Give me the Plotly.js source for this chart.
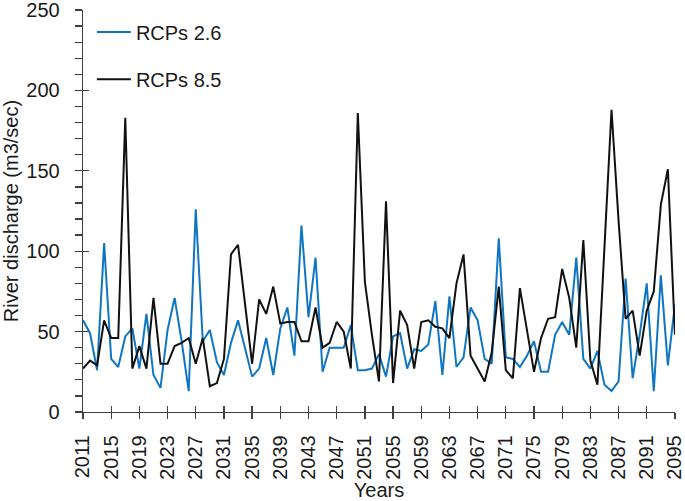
<!DOCTYPE html>
<html>
<head>
<meta charset="utf-8">
<script src="https://cdn.plot.ly/plotly-3.0.1.min.js"></script>
<style>html,body{margin:0;padding:0;background:#fff;}#chart{width:685px;height:501px;}</style>
</head>
<body>
<div id="chart"></div>
<script>
var years = [];
for (var yr = 2011; yr <= 2095; yr++) years.push(yr);

var rcp26 = [57,49,26,105,33,28,47,52,27,61,
             23,15,51,71,44,13,126,44,51,31,
             23,43,57,39,22,27,46,23,52,65,
             35,116,59,96,25,40,40,40,54,26,
             26,27,36,22,47,49,27,39,38,42,
             69,23,72,28,34,65,57,33,30,108,
             34,33,28,35,44,25,25,48,56,48,
             96,33,27,38,17,13,19,83,21,48,
             80,13,85,29,67];

var rcp85 = [27,32,29,57,46,46,183,27,41,27,
             71,30,30,41,43,46,30,46,16,18,
             33,98,104,67,30,70,61,78,55,56,
             56,44,44,65,40,43,56,50,27,186,
             81,48,19,131,18,63,54,27,56,57,
             53,52,46,80,98,35,27,19,37,78,
             26,21,77,52,25,46,58,59,89,71,
             40,107,32,17,100,188,119,58,63,35,
             63,75,129,151,48];

var seriesNames = ['RCPs 2.6', 'RCPs 8.5'];
var tickYears = [];
for (var t = 2011; t <= 2095; t += 4) tickYears.push(t);
var yTicks = [0, 50, 100, 150, 200, 250];

var axisColor = '#404040';
var fontFam = 'Liberation Sans, Arial, sans-serif';
var xRange = [2011, 2095.01];
var yRange = [0, 250.02];

var traces = [
  {x: years, y: rcp26, name: seriesNames[0], type: 'scatter', mode: 'lines',
   line: {color: '#0f76c4', width: 2}, legend: 'legend'},
  {x: years, y: rcp85, name: seriesNames[1], type: 'scatter', mode: 'lines',
   line: {color: '#111111', width: 2}, xaxis: 'x2', yaxis: 'y2', legend: 'legend2'}
];

var layout = {
  width: 685, height: 501,
  margin: {l: 83, r: 10, t: 10, b: 89},
  paper_bgcolor: '#fff', plot_bgcolor: '#fff',
  font: {family: fontFam, size: 20, color: '#1a1a1a'},
  xaxis: {
    range: xRange, tickvals: tickYears, ticktext: tickYears.map(String),
    tickangle: -90, ticks: 'outside', ticklen: 6, tickwidth: 1.3, tickcolor: axisColor,
    showline: true, linecolor: axisColor, linewidth: 1.3, showgrid: false, zeroline: false,
    ticklabelstandoff: 8, ticklabeloverflow: 'allow',
    tickfont: {size: 20}, title: {text: 'Years', font: {size: 20}, standoff: 8}
  },
  yaxis: {
    range: yRange, tickvals: yTicks, ticks: 'outside', ticklen: 7, tickwidth: 1.3,
    tickcolor: axisColor, showline: true, linecolor: axisColor, linewidth: 1.3,
    showgrid: false, zeroline: false, ticklabelstandoff: 11, ticklabeloverflow: 'allow',
    minor: {dtick: 10, tick0: 0, ticks: 'outside', ticklen: 7, tickwidth: 1.3, tickcolor: axisColor, showgrid: false},
    tickfont: {size: 20}, title: {text: 'River discharge (m3/sec)', font: {size: 20}, standoff: 6}
  },
  xaxis2: {
    overlaying: 'x', anchor: 'y', range: xRange, tickvals: tickYears,
    ticks: 'inside', ticklen: 6, tickwidth: 1.3, tickcolor: axisColor,
    showticklabels: false, showline: false, showgrid: false, zeroline: false, side: 'bottom'
  },
  yaxis2: {
    overlaying: 'y', anchor: 'x', range: yRange, tickvals: yTicks,
    ticks: 'inside', ticklen: 6, tickwidth: 1.3, tickcolor: axisColor,
    showticklabels: false, showline: false, showgrid: false, zeroline: false, side: 'left'
  },
  showlegend: true,
  legend: {x: 0.015, y: 0.945, xanchor: 'left', yanchor: 'middle', bgcolor: 'rgba(0,0,0,0)',
           itemwidth: 34, font: {size: 20}},
  legend2: {x: 0.015, y: 0.8275, xanchor: 'left', yanchor: 'middle', bgcolor: 'rgba(0,0,0,0)',
            itemwidth: 34, font: {size: 20}}
};

Plotly.newPlot('chart', traces, layout, {displayModeBar: false, staticPlot: true});
</script>
</body>
</html>
